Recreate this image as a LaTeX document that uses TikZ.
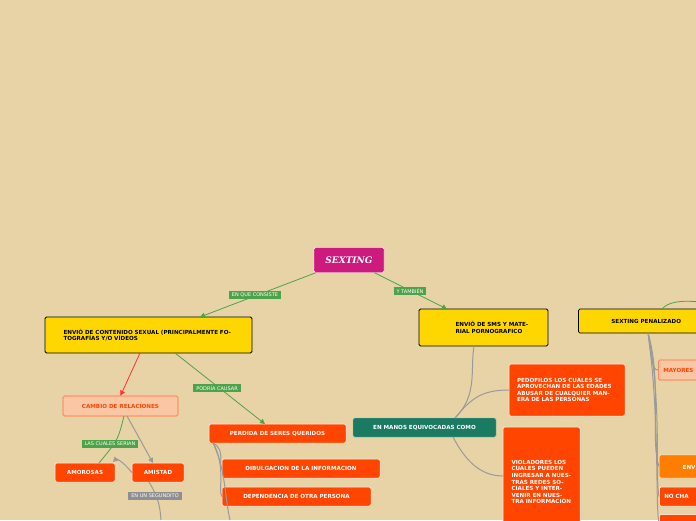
\documentclass[tikz,border=0pt]{standalone}
\usepackage{fontspec}
\setmainfont{DejaVu Sans}
\newfontfamily\titlefont{DejaVu Serif}
\usetikzlibrary{arrows.meta}
\definecolor{bg}{HTML}{E8D3A6}
\definecolor{yel}{HTML}{FFD700}
\definecolor{org}{HTML}{FF4500}
\definecolor{peach}{HTML}{F9C7A3}
\definecolor{grn}{HTML}{4DA34A}
\definecolor{teal}{HTML}{1A7A62}
\definecolor{mag}{HTML}{CC1A7F}
\definecolor{gry}{HTML}{8E8E93}
\definecolor{conn}{HTML}{9A9A9A}
\tikzset{
 base/.style={font=\bfseries\fontsize{5.6}{6.6}\selectfont, rounded corners=1.5pt, inner sep=0pt, align=left},
 yelbox/.style={base, draw=black, line width=0.8pt, fill=yel, text=black},
 orgbox/.style={base, draw=white, line width=0.5pt, fill=org, text=white},
 peachbox/.style={base, draw=org!80, line width=0.6pt, fill=peach, text=org},
 lbl/.style={font=\fontsize{5}{6}\selectfont, fill=grn, text=white, inner xsep=3pt, inner ysep=2pt},
 gconn/.style={draw=grn, line width=0.8pt},
 cconn/.style={draw=conn, line width=1pt},
 ar/.style={-{Triangle[length=5pt,width=5pt]}},
}
\begin{document}
\begin{tikzpicture}[x=1pt,y=-1pt]
\useasboundingbox (0,0) rectangle (696,520);
\fill[bg] (0,0) rectangle (696,520);
\clip (0,0) rectangle (696,520);
\node[base, draw=white, fill=mag, text=white, minimum width=70pt, minimum height=25pt, align=center, font=\titlefont\bfseries\itshape\fontsize{9}{10}\selectfont] (sex) at (349,260) {SEXTING};
\node[yelbox, minimum width=207pt, minimum height=36pt, text width=170pt] (y1) at (148.5,335) {ENVIÓ DE CONTENIDO SEXUAL (PRINCIPALMENTE FOTOGRAFÍAS Y/O VÍDEOS};
\node[yelbox, minimum width=129pt, minimum height=37pt, text width=100pt] (y2) at (483.5,327.5) {\hspace*{22pt}\parbox[t]{75pt}{ENVIÓ DE SMS Y MATERIAL PORNOGRAFICO}};
\node[yelbox, minimum width=160pt, minimum height=24pt, anchor=west, text width=150pt] (y3) at (578,321) {\hspace*{28pt}SEXTING PENALIZADO};
\node[peachbox, minimum width=115pt, minimum height=20pt, align=center] (cam) at (120.5,406) {CAMBIO DE RELACIONES};
\node[orgbox, minimum width=60pt, minimum height=19pt, align=center] (amo) at (85,472.5) {AMOROSAS};
\node[orgbox, minimum width=52pt, minimum height=19pt, align=center] (ami) at (158,472.5) {AMISTAD};
\node[orgbox, minimum width=137pt, minimum height=19pt, align=center] (per) at (277.5,433.5) {PERDIDA DE SERES QUERIDOS};
\node[orgbox, minimum width=158pt, minimum height=19pt, align=center] (dib) at (301,468.5) {DIBULGACION DE LA INFORMACION};
\node[orgbox, minimum width=149pt, minimum height=19pt, align=center] (dep) at (296.5,496.5) {DEPENDENCIA DE OTRA PERSONA};
\node[base, draw=teal!50!white, fill=teal, text=white, minimum width=143pt, minimum height=19pt, align=center] (man) at (424.5,427.5) {EN MANOS EQUIVOCADAS COMO};
\node[orgbox, minimum width=116pt, minimum height=52pt, text width=100pt] (ped) at (567,390) {PEDOFILOS LOS CUALES SE APROVECHAN DE LAS EDADES ABUSAR DE CUALQUIER MANERA DE LAS PERSONAS};
\node[orgbox, minimum width=77pt, minimum height=110pt, text width=60pt] (vio) at (541.5,482) {VIOLADORES LOS CUALES PUEDEN INGRESAR A NUESTRAS REDES SOCIALES Y INTERVENIR EN NUESTRA INFORMACIÓN\\[40pt]};
\node[peachbox, minimum width=60pt, minimum height=20pt, anchor=west, text width=50pt] (may) at (658,370) {MAYORES};
\node[base, draw=white, fill=org!70!yellow, text=white, minimum width=60pt, minimum height=23pt, anchor=west, text width=45pt] (env) at (659,466.5) {\hspace*{16pt}ENVÍO};
\node[orgbox, minimum width=60pt, minimum height=19pt, anchor=west, text width=50pt] (noc) at (659,496.5) {NO CHA};
\node[orgbox, minimum width=60pt, minimum height=19pt, anchor=west] (ext) at (659,524) {};
\coordinate (y1a) at (200,317);
\coordinate (y2a) at (447,309);
\coordinate (y1b) at (140,353);
\coordinate (y1c) at (175,353);
\coordinate (pera) at (265,424);
\coordinate (cama) at (124,416);
\coordinate (camb) at (127,416);
\coordinate (amia) at (153,463);
\coordinate (amoa) at (99,463);
\draw[gconn,ar] (sex) -- (y1a);
\node[lbl] (l1) at (255,295) {EN QUE CONSISTE};
\draw[gconn,ar] (sex) -- (y2a);
\node[lbl] (l2) at (410,291) {Y TAMBIÉN};
\draw[draw=red!80, line width=0.8pt, ar] (y1b) -- (cam.north);
\draw[gconn,ar] (y1c) -- (pera);
\node[lbl] (l3) at (217,388) {PODRÍA CAUSAR};
\draw[gconn] (cama) .. controls (118,440) .. (amoa);
\draw[cconn, ar] (camb) -- (amia);
\node[lbl] (l4) at (110,444) {LAS CUALES SERIAN};
\draw[cconn, ar] (ami.west) .. controls (122,460) and (116,459) .. (113,462);
\draw[cconn] (149,482) .. controls (160,500) and (160,510) .. (161,520);
\node[lbl, fill=gry] (l5) at (155,496) {EN UN SEGUNDITO};
\draw[cconn] (213,443) .. controls (226,450) and (218,465) .. (dib.west);
\draw[cconn] (213,443) .. controls (226,465) and (218,490) .. (dep.west);
\draw[cconn] (213,443) .. controls (226,470) and (225,500) .. (230,520);
\draw[cconn] (474,346) .. controls (470,370) and (478,395) .. (455,418);
\draw[cconn] (455,418) .. controls (470,400) and (480,390) .. (ped.west);
\draw[cconn] (453,437) .. controls (465,460) and (480,476) .. (503,476);
\draw[cconn] (648,333) .. controls (652,360) and (652,370) .. (may.west);
\draw[cconn] (648,333) .. controls (662,380) and (650,440) .. (env.west);
\draw[cconn] (648,333) .. controls (662,400) and (655,480) .. (noc.west);
\draw[cconn] (648,333) .. controls (660,420) and (655,500) .. (ext.west);
\draw[gconn] (662,309) .. controls (668,302) and (680,300) .. (700,302);
\end{tikzpicture}
\end{document}
